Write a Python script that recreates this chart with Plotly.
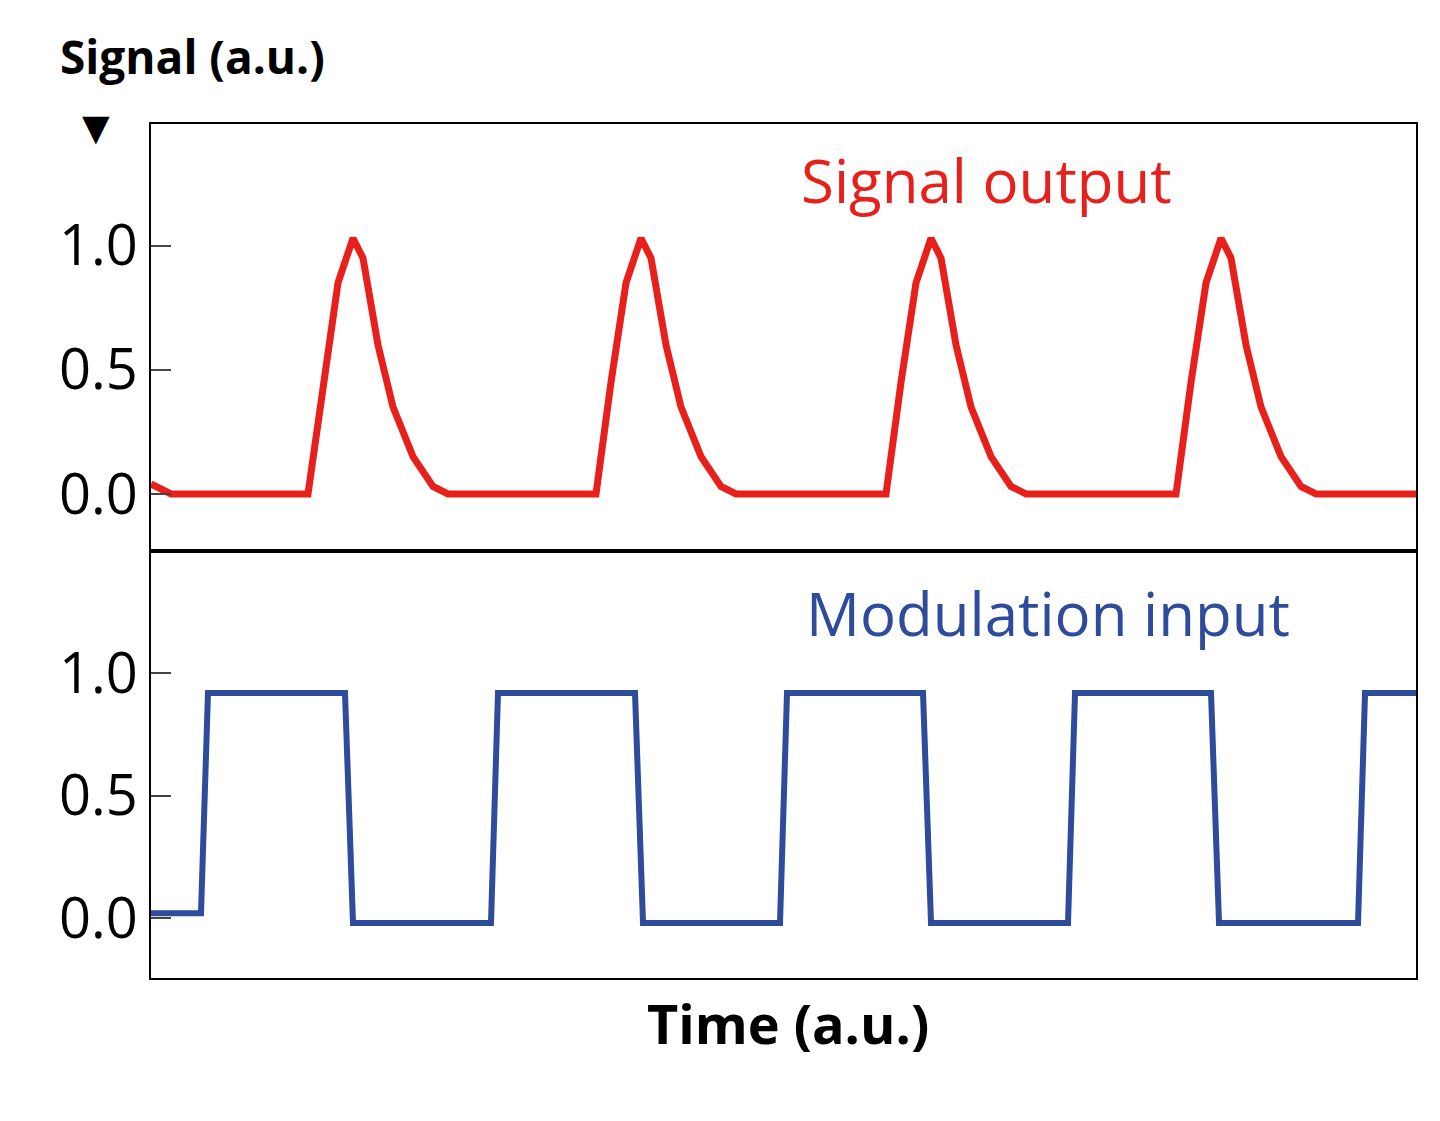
import plotly.graph_objects as go

# Signal output waveform key points (time a.u., signal a.u.)
sig_t = [0, 20, 157, 172, 187, 202, 212, 227, 242, 262, 282, 297,
         445, 460, 475, 490, 500, 515, 530, 550, 570, 585,
         735, 750, 765, 780, 790, 805, 820, 840, 860, 875,
         1025, 1040, 1055, 1070, 1080, 1095, 1110, 1130, 1150, 1165, 1265]
sig_y = [0.04, 0.0, 0.0, 0.45, 0.85, 1.03, 0.95, 0.6, 0.35, 0.15, 0.03, 0.0,
         0.0, 0.45, 0.85, 1.03, 0.95, 0.6, 0.35, 0.15, 0.03, 0.0,
         0.0, 0.45, 0.85, 1.03, 0.95, 0.6, 0.35, 0.15, 0.03, 0.0,
         0.0, 0.45, 0.85, 1.03, 0.95, 0.6, 0.35, 0.15, 0.03, 0.0, 0.0]

# Modulation input waveform key points
mod_t = [0, 50, 57, 194, 202, 340, 347, 484, 492, 629, 636, 772, 780,
         917, 924, 1060, 1068, 1207, 1214, 1265]
mod_y = [0.02, 0.02, 0.92, 0.92, -0.02, -0.02, 0.92, 0.92, -0.02, -0.02, 0.92, 0.92, -0.02,
         -0.02, 0.92, 0.92, -0.02, -0.02, 0.92, 0.92]

y_ticks = [0.0, 0.5, 1.0]
y_labels = ["0.0", "0.5", "1.0"]

FONT = "Open Sans"
fig = go.Figure()
fig.add_trace(go.Scatter(x=sig_t, y=sig_y, mode="lines", line=dict(color="#e8201c", width=7),
                         xaxis="x", yaxis="y"))
fig.add_trace(go.Scatter(x=mod_t, y=mod_y, mode="lines", line=dict(color="#2e4b9c", width=6),
                         xaxis="x2", yaxis="y2"))

ax = dict(showline=True, mirror=True, linecolor="black", linewidth=2,
          showgrid=False, zeroline=False)
yax = dict(ax, tickvals=y_ticks, ticktext=y_labels, ticks="inside", ticklen=20,
           tickwidth=2, tickfont=dict(size=56, family=FONT, color="black"))


def ann(text, px, py, size, color, family=FONT):
    return dict(text=text, x=px/1440, y=1-py/1121, xref="paper", yref="paper",
                xanchor="center", yanchor="middle", showarrow=False,
                font=dict(size=size, family=family, color=color))


fig.update_layout(
    width=1440, height=1121, margin=dict(l=0, r=0, t=0, b=0),
    plot_bgcolor="white", paper_bgcolor="white", showlegend=False,
    xaxis=dict(ax, domain=[0.0993, 0.9778], range=[0, 1265], showticklabels=False, anchor="y"),
    xaxis2=dict(ax, domain=[0.0993, 0.9778], range=[0, 1265], showticklabels=False, anchor="y2"),
    yaxis=dict(yax, domain=[0.5156, 0.8965], range=[-0.23, 1.49], anchor="x"),
    yaxis2=dict(yax, domain=[0.1347, 0.5156], range=[-0.245, 1.50], anchor="x2"),
    annotations=[
        ann("<b>Signal (a.u.)</b>", 185, 48, 46, "black"),
        ann("▼", 88, 120, 36, "black", "DejaVu Sans"),
        ann("Signal output", 978, 172, 60, "#e8201c"),
        ann("Modulation input", 1040, 605, 60, "#2e4b9c"),
        ann("<b>Time (a.u.)</b>", 780, 1015, 54, "black"),
    ],
)
fig.write_html("out.html")
